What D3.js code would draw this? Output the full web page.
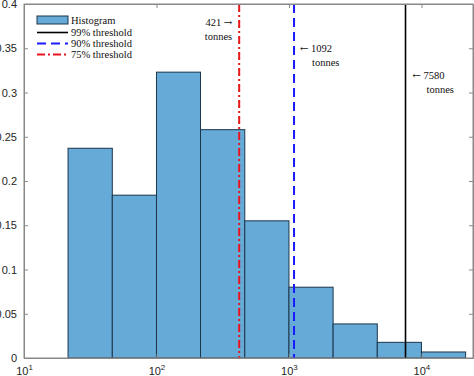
<!DOCTYPE html>
<html>
<head>
<meta charset="utf-8">
<script src="https://cdn.jsdelivr.net/npm/d3@7"></script>
<style>
  body { margin: 0; background: #fff; }
  .tick text { font-family: "Liberation Sans", Arial, sans-serif; font-size: 11px; fill: #262626; }
  .ann { font-family: "Liberation Serif", "DejaVu Serif", serif; font-size: 10.5px; fill: #111; }
  .arr { font-family: "DejaVu Serif", serif; font-size: 10px; }
</style>
</head>
<body>
<div id="chart"></div>
<script>
// histogram bins (log spaced edges) and normalised heights
var binEdges = [21.5, 46.4, 100, 215, 464, 1000, 2154, 4642, 10000, 21544];
var binValues = [0.237, 0.184, 0.323, 0.258, 0.155, 0.080, 0.0385, 0.0177, 0.0068];

// thresholds
var thrNames = ["99% threshold", "90% threshold", "75% threshold"];
var thrValues = [7580, 1092, 421];
var thrColors = ["#000000", "#1a1aff", "#e8141e"];
var thrDash = [null, "9,5", "8,3,2,3"];
var thrWidth = [1.6, 2, 2];

var yTicks = [0, 0.05, 0.1, 0.15, 0.2, 0.25, 0.3, 0.35, 0.4];
var xTicks = [10, 100, 1000, 10000];

var W = 474, H = 376;
var margin = { top: 4, right: 1, bottom: 18, left: 24 };
var width = W - margin.left - margin.right;
var height = H - margin.top - margin.bottom;

var svg = d3.select("#chart").append("svg")
  .attr("width", W).attr("height", H)
  .append("g")
  .attr("transform", `translate(${margin.left},${margin.top})`);

var x = d3.scaleLog().domain([10, 24500]).range([0, width]);
var y = d3.scaleLinear().domain([0, 0.4]).range([height, 0]);

// bars
var bins = binValues.map(function(v, i) { return { x0: binEdges[i], x1: binEdges[i + 1], v: v }; });
svg.append("g").selectAll("rect")
  .data(bins)
  .enter()
  .append("rect")
  .attr("x", d => x(d.x0))
  .attr("width", d => x(d.x1) - x(d.x0))
  .attr("y", d => y(d.v))
  .attr("height", d => y(0) - y(d.v))
  .style("fill", "#66aad8")
  .style("stroke", "#1d354b")
  .style("stroke-width", 1);

// threshold lines
var thr = thrValues.map(function(v, i) { return { v: v, c: thrColors[i], d: thrDash[i], w: thrWidth[i], n: thrNames[i] }; });
svg.append("g").selectAll("line")
  .data(thr)
  .enter()
  .append("line")
  .attr("x1", d => x(d.v)).attr("x2", d => x(d.v))
  .attr("y1", 0).attr("y2", height)
  .style("stroke", d => d.c)
  .style("stroke-width", d => d.w)
  .style("stroke-dasharray", d => d.d);

// annotations
var ann = svg.append("g").attr("class", "ann");
function note(v, dx, dy, first, second, anchor) {
  var t = ann.append("text")
    .attr("x", x(v) + dx[0]).attr("y", dy)
    .attr("text-anchor", anchor);
  first.forEach(function(p) {
    t.append("tspan").attr("class", p.arrow ? "arr" : null).text(p.s);
  });
  ann.append("text")
    .attr("x", x(v) + dx[1]).attr("y", dy + 13.5)
    .attr("text-anchor", anchor)
    .text(second);
}
note(421, [-7, -7], 22, [{ s: "421 " }, { s: "\u2192", arrow: true }], "tonnes", "end");
note(1092, [6, 18], 48, [{ s: "\u2190", arrow: true }, { s: " 1092" }], "tonnes", "start");
note(7580, [7, 21], 75, [{ s: "\u2190", arrow: true }, { s: " 7580" }], "tonnes", "start");

// axes (MATLAB style: box, inward ticks)
var axCol = "#888";
var gx = svg.append("g").attr("transform", `translate(0,${height})`)
  .call(d3.axisBottom(x).tickValues(xTicks).tickSizeInner(-4).tickSizeOuter(0).tickFormat(""));
gx.selectAll(".tick").append("text")
  .attr("y", 16.5).attr("text-anchor", "middle").attr("fill", "#262626")
  .html(d => "10<tspan dy='-5' font-size='8px'>" + Math.round(Math.log10(d)) + "</tspan>");
svg.append("g")
  .call(d3.axisTop(x).tickValues(xTicks).tickSizeInner(-4).tickSizeOuter(0).tickFormat(""));
svg.append("g")
  .call(d3.axisLeft(y).tickValues(yTicks).tickSizeInner(-4).tickSizeOuter(0).tickPadding(7)
    .tickFormat(d => d === 0 ? "0" : String(+d.toFixed(2))));
svg.append("g").attr("transform", `translate(${width},0)`)
  .call(d3.axisRight(y).tickValues(yTicks).tickSizeInner(-4).tickSizeOuter(0).tickFormat(""));
svg.selectAll(".domain, .tick line").style("stroke", axCol);
svg.append("rect").attr("width", width).attr("height", height)
  .style("fill", "none").style("stroke", axCol);

// legend
var lg = svg.append("g").attr("class", "ann").attr("transform", "translate(13,12)");
lg.append("rect").attr("x", 0).attr("y", 0).attr("width", 31).attr("height", 8)
  .style("fill", "#66aad8").style("stroke", "#1d354b");
lg.append("text").attr("x", 34).attr("y", 8).text("Histogram");
thr.forEach(function(d, i) {
  var yy = 16.5 + i * 11;
  lg.append("line").attr("x1", 0).attr("x2", 31).attr("y1", yy).attr("y2", yy)
    .style("stroke", d.c).style("stroke-width", d.w).style("stroke-dasharray", d.d);
  lg.append("text").attr("x", 34).attr("y", yy + 3.5).text(d.n);
});
</script>
</body>
</html>
